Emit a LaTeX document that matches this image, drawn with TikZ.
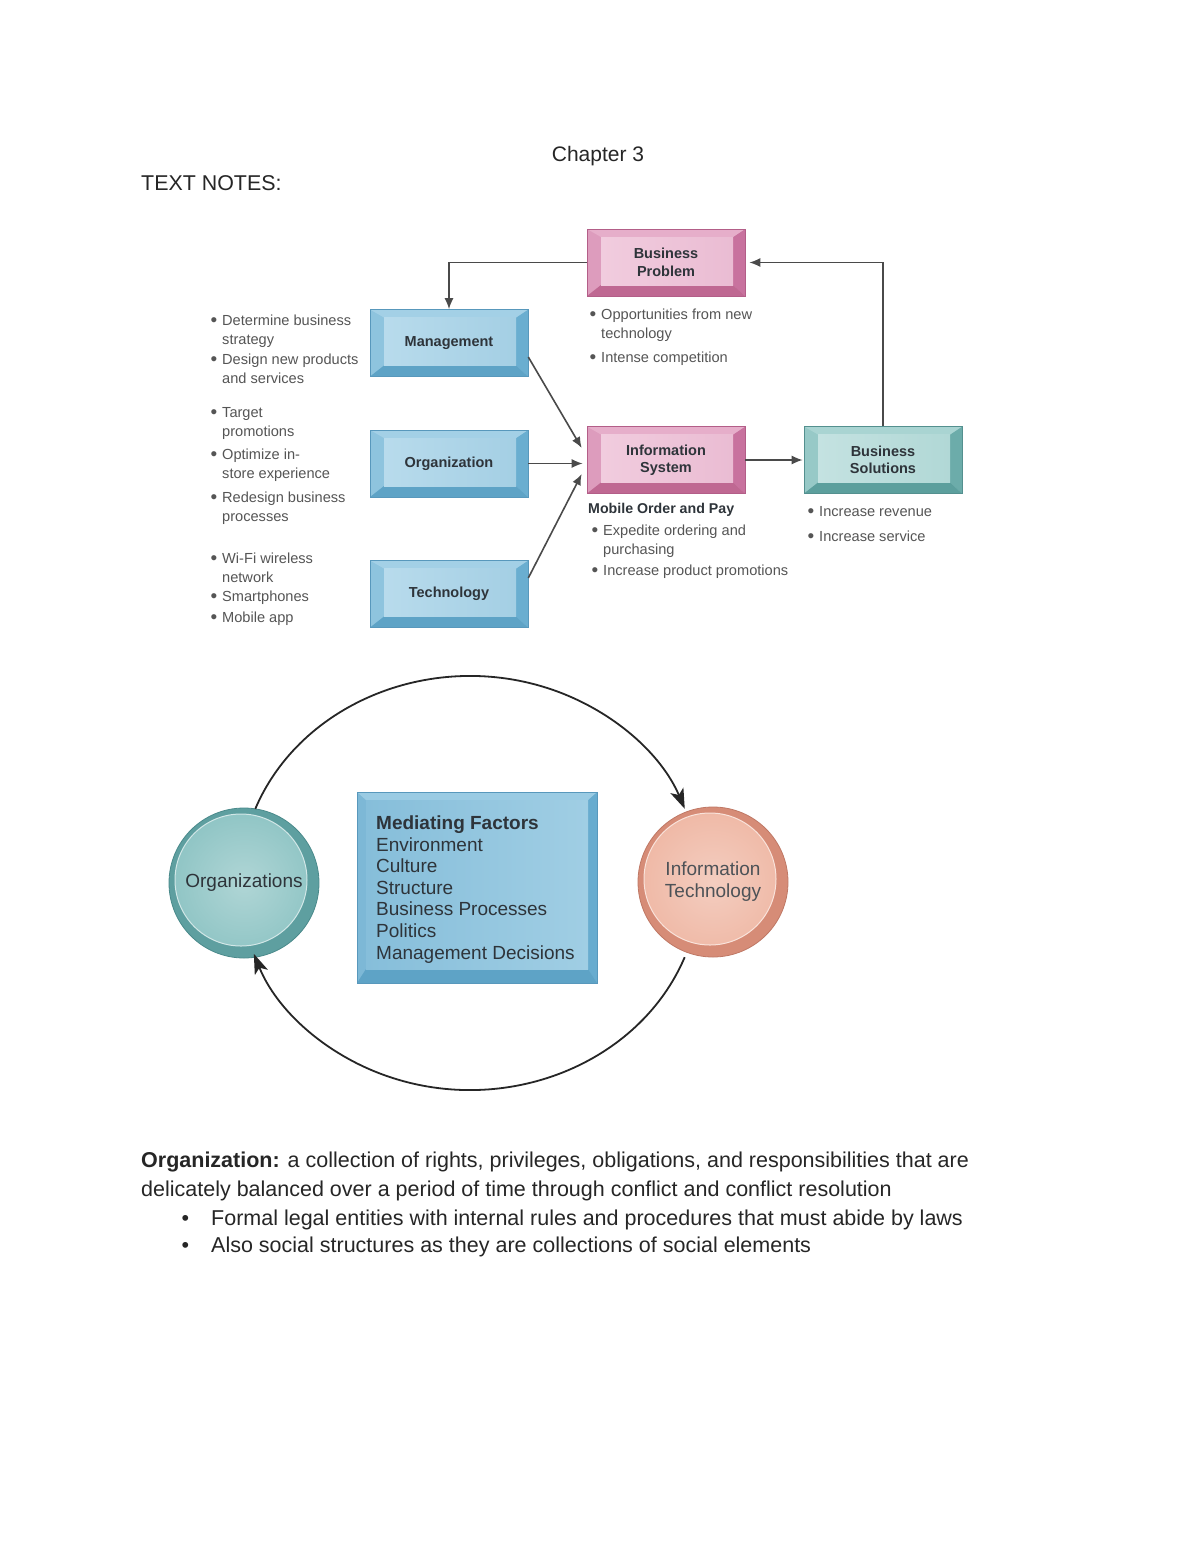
\documentclass[tikz,border=0pt]{standalone}
\usepackage{fontspec}
\setmainfont{Liberation Sans}
\usetikzlibrary{arrows.meta,calc}
% blue
\definecolor{blL}{HTML}{8EC4DE}\definecolor{blR}{HTML}{6AAED0}
\definecolor{blT}{HTML}{A3D0E6}\definecolor{blB}{HTML}{5EA3C6}
\definecolor{blI}{HTML}{B8DBEC}\definecolor{blJ}{HTML}{A4CFE4}
\definecolor{blO}{HTML}{5898BC}
% mediating (darker blue)
\definecolor{mbL}{HTML}{7DB8D6}\definecolor{mbR}{HTML}{68ACCF}
\definecolor{mbT}{HTML}{9ACBE3}\definecolor{mbB}{HTML}{5EA3C6}
\definecolor{mbI}{HTML}{86BEDA}\definecolor{mbJ}{HTML}{A0CEE4}
\definecolor{mbO}{HTML}{5898BC}
% pink
\definecolor{pkL}{HTML}{DD9CBD}\definecolor{pkR}{HTML}{C8729E}
\definecolor{pkT}{HTML}{E6AECA}\definecolor{pkB}{HTML}{BF6892}
\definecolor{pkI}{HTML}{F1CCDE}\definecolor{pkJ}{HTML}{EABCD3}
\definecolor{pkO}{HTML}{B35E88}
% teal
\definecolor{tlL}{HTML}{97C9C7}\definecolor{tlR}{HTML}{6CACAA}
\definecolor{tlT}{HTML}{A9D4D2}\definecolor{tlB}{HTML}{5C9F9D}
\definecolor{tlI}{HTML}{C4E2E1}\definecolor{tlJ}{HTML}{B1D8D6}
\definecolor{tlO}{HTML}{54908F}
% misc
\definecolor{lbl}{HTML}{2E343A}
\definecolor{bul}{HTML}{555555}
\definecolor{arrc}{HTML}{4A4A4A}
\definecolor{orgO}{HTML}{5E9FA0}\definecolor{orgI}{HTML}{8EC4C4}\definecolor{orgD}{HTML}{4A8A8B}
\definecolor{itO}{HTML}{D68C77}\definecolor{itI}{HTML}{EFB8A5}\definecolor{itD}{HTML}{BF7865}
\definecolor{body}{HTML}{262626}
\tikzset{
  bevel/.style n args={5}{rectangle, fill=#1L, draw=#1O, line width=0.6pt,
    path picture={
      \coordinate (pNW) at (path picture bounding box.north west);
      \coordinate (pNE) at (path picture bounding box.north east);
      \coordinate (pSW) at (path picture bounding box.south west);
      \coordinate (pSE) at (path picture bounding box.south east);
      \coordinate (qNW) at ([xshift=#2pt,yshift=-#4pt]pNW);
      \coordinate (qNE) at ([xshift=-#3pt,yshift=-#4pt]pNE);
      \coordinate (qSW) at ([xshift=#2pt,yshift=#5pt]pSW);
      \coordinate (qSE) at ([xshift=-#3pt,yshift=#5pt]pSE);
      \fill[#1L] (pNW) -- (qNW) -- (qSW) -- (pSW) -- cycle;
      \fill[#1R] (pNE) -- (qNE) -- (qSE) -- (pSE) -- cycle;
      \fill[#1T] (pNW) -- (pNE) -- (qNE) -- (qNW) -- cycle;
      \fill[#1B] (pSW) -- (pSE) -- (qSE) -- (qSW) -- cycle;
      \shade[left color=#1I, right color=#1J] (qNW) rectangle (qSE);
    }},
  sbox/.style={bevel={#1}{14}{12}{8}{11}, minimum width=158pt, minimum height=67pt,
    inner sep=0pt, align=center, text=lbl, font=\fontsize{14.5}{17.5}\selectfont\bfseries},
  bltxt/.style={anchor=base west, align=left, inner sep=0pt, text=bul,
    font=\fontsize{14.6}{18.5}\selectfont},
  arr/.style={draw=arrc, line width=1.6pt, -{Latex[length=11pt,width=9pt]}},
  bigarr/.style={draw=black!85, line width=1.8pt, -{Stealth[length=20pt,width=14pt,inset=5pt]}},
  bodytxt/.style={anchor=base west, inner sep=0pt, text=body, font=\fontsize{21.5}{24}\selectfont},
}
\newcommand{\bl}{\llap{\raisebox{-1.2pt}{\scalebox{1.3}{\textbullet}}\hspace{5pt}}}
\begin{document}
\begin{tikzpicture}[x=1pt,y=-1pt]
\useasboundingbox (0,0) rectangle (1200,1553);
\fill[white] (0,0) rectangle (1200,1553);

% header
\node[bodytxt, anchor=base, font=\fontsize{21}{24}\selectfont] (chap) at (598,161) {Chapter 3};
\node[bodytxt, font=\fontsize{21.4}{24}\selectfont] (notes) at (141,190) {TEXT NOTES:};

% ---------- top diagram ----------
\node[sbox=pk] (bp) at (666,262.5) {Business\\Problem};
\node[sbox=bl] (mg) at (449,343) {Management};
\node[sbox=bl] (og) at (449,463.5) {Organization};
\node[sbox=bl] (tc) at (449,594) {Technology};
\node[sbox=pk] (is) at (666,460) {Information\\System};
\node[sbox=tl] (bs) at (883,460) {Business\\Solutions};

\draw[arr] (bp.west) -| (mg.north);
\draw[arr, shorten >=4pt] (bs.north) |- (bp.east);
\draw[arr] ($(mg.east)+(0,14)$) -- ($(is.west)+(-5,-12)$);
\draw[arr, shorten >=4pt] (og.east) -- (og.east -| is.west);
\draw[arr] ($(tc.east)+(0,-16)$) -- ($(is.west)+(-5,14)$);
\draw[arr, shorten >=1pt] (is.east) -- (bs.west);

% left bullet texts (position = baseline of last line)
\node[bltxt] (m1) at (222,344) {\bl Determine business\\strategy};
\node[bltxt] (m2) at (222,383) {\bl Design new products\\and services};
\node[bltxt] (o1) at (222,436) {\bl Target\\promotions};
\node[bltxt] (o2) at (222,478) {\bl Optimize in-\\store experience};
\node[bltxt] (o3) at (222,521) {\bl Redesign business\\processes};
\node[bltxt] (t1) at (222,582) {\bl Wi-Fi wireless\\network};
\node[bltxt] (t2) at (222,601) {\bl Smartphones};
\node[bltxt] (t3) at (222,622) {\bl Mobile app};

% problem bullets
\node[bltxt] (p1) at (601,338) {\bl Opportunities from new\\technology};
\node[bltxt] (p2) at (601,362) {\bl Intense competition};

% IS texts
\node[bltxt, text=lbl, font=\fontsize{14.2}{18.5}\selectfont\bfseries] (mop) at (588,513) {Mobile Order and Pay};
\node[bltxt] (i1) at (603,554) {\bl Expedite ordering and\\purchasing};
\node[bltxt] (i2) at (603,575) {\bl Increase product promotions};

% solutions bullets
\node[bltxt] (s1) at (819,516) {\bl Increase revenue};
\node[bltxt] (s2) at (819,541) {\bl Increase service};

% ---------- bottom diagram ----------
\node[circle, minimum size=150pt, inner sep=0pt, fill=orgO, draw=orgD, line width=0.8pt,
  path picture={\shade[inner color=orgI!70!white, outer color=orgI] ([xshift=-3pt,yshift=3pt]path picture bounding box.center) circle (66pt);
                \draw[white!60!orgI, line width=1pt] ([xshift=-3pt,yshift=3pt]path picture bounding box.center) circle (66pt);},
  text=lbl, font=\fontsize{19}{22}\selectfont] (orgn) at (244,883) {Organizations};
\node[circle, minimum size=150pt, inner sep=0pt, fill=itO, draw=itD, line width=0.8pt,
  path picture={\shade[inner color=itI!70!white, outer color=itI] ([xshift=-3pt,yshift=3pt]path picture bounding box.center) circle (66pt);
                \draw[white!60!itI, line width=1pt] ([xshift=-3pt,yshift=3pt]path picture bounding box.center) circle (66pt);},
  align=center, text=lbl!85!white, font=\fontsize{19}{22}\selectfont] (itn) at (713,882) {Information\\Technology};

\node[bevel={mb}{9}{9}{8}{14}, minimum width=240pt, minimum height=191pt] (mf) at (477,887.5) {};
\node[anchor=base west, align=left, inner sep=0pt, text=lbl, font=\fontsize{19}{21.6}\selectfont] (mft) at (376,959)
  {\textbf{Mediating Factors}\\Environment\\Culture\\Structure\\Business Processes\\Politics\\Management Decisions};

\coordinate (a1) at (255.3,808.8);
\coordinate (a2) at (684.7,957.2);
\draw[bigarr] (a1) arc[start angle=159, end angle=21, x radius=230pt, y radius=207pt];
\draw[bigarr] (a2) arc[start angle=-21, end angle=-160, x radius=230pt, y radius=207pt];

% ---------- bottom text ----------
\node[bodytxt] (d1) at (141,1167) {\textbf{Organization:} a collection of rights, privileges, obligations, and responsibilities that are};
\node[bodytxt] (d2) at (141,1196) {delicately balanced over a period of time through conflict and conflict resolution};
\node[bodytxt] (b1) at (211,1225) {\llap{\textbullet\hspace{22pt}}Formal legal entities with internal rules and procedures that must abide by laws};
\node[bodytxt] (b2) at (211,1252) {\llap{\textbullet\hspace{22pt}}Also social structures as they are collections of social elements};
\end{tikzpicture}
\end{document}
